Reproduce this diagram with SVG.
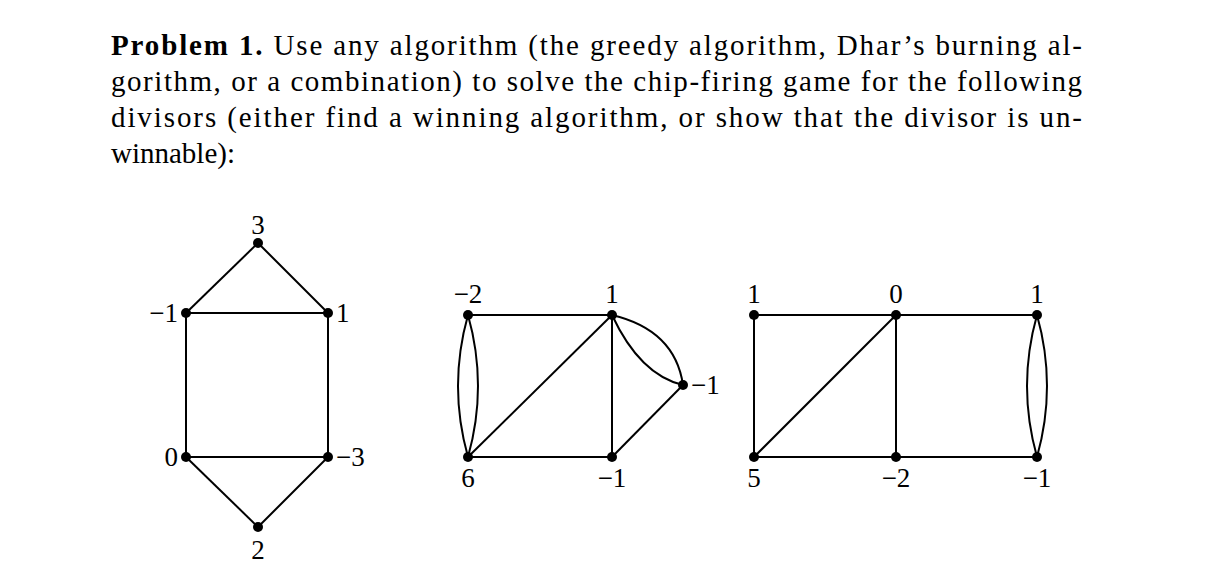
<svg xmlns="http://www.w3.org/2000/svg" width="1206" height="584" viewBox="0 0 1206 584">
<style>
text{font-family:"Liberation Serif","DejaVu Serif",serif;font-size:29px;fill:#000}
.b{font-weight:bold}
.l{font-size:27px}
line,path{stroke:#000;stroke-width:2;fill:none}
circle{fill:#000}
</style>
<rect width="1206" height="584" fill="#fff"/>
<g id="problem">
<text x="111" y="55" textLength="971" lengthAdjust="spacing"><tspan class="b">Problem 1.</tspan> Use any algorithm (the greedy algorithm, Dhar’s burning al-</text>
<text x="111" y="91" textLength="971" lengthAdjust="spacing">gorithm, or a combination) to solve the chip-firing game for the following</text>
<text x="111" y="127" textLength="971" lengthAdjust="spacing">divisors (either find a winning algorithm, or show that the divisor is un-</text>
<text x="111" y="163">winnable):</text>
</g>
<g id="connectors">
<line x1="258" y1="243" x2="186" y2="313"/><line x1="258" y1="243" x2="328" y2="313"/>
<line x1="186" y1="313" x2="328" y2="313"/><line x1="186" y1="313" x2="186" y2="457"/>
<line x1="328" y1="313" x2="328" y2="457"/><line x1="186" y1="457" x2="328" y2="457"/>
<line x1="186" y1="457" x2="258" y2="527"/><line x1="328" y1="457" x2="258" y2="527"/>
<line x1="468" y1="315" x2="612" y2="315"/><line x1="468" y1="457" x2="612" y2="315"/>
<line x1="612" y1="315" x2="612" y2="457"/><line x1="468" y1="457" x2="612" y2="457"/>
<line x1="612" y1="457" x2="683" y2="385"/>
<path d="M468 315 Q448 386 468 457"/><path d="M468 315 Q488 386 468 457"/>
<path d="M612 315 Q675 330 683 385"/><path d="M612 315 Q640 375 683 385"/>
<line x1="754" y1="315" x2="1037" y2="315"/><line x1="754" y1="457" x2="1037" y2="457"/>
<line x1="754" y1="315" x2="754" y2="457"/><line x1="896" y1="315" x2="896" y2="457"/>
<line x1="754" y1="457" x2="896" y2="315"/>
<path d="M1037 315 Q1017 386 1037 457"/><path d="M1037 315 Q1057 386 1037 457"/>
</g>
<g id="n1"><circle cx="258" cy="243" r="5"/><text class="l" x="258" y="234" text-anchor="middle">3</text></g>
<g id="n2"><circle cx="186" cy="313" r="5"/><text class="l" x="178" y="322" text-anchor="end">−1</text></g>
<g id="n3"><circle cx="328" cy="313" r="5"/><text class="l" x="336" y="322">1</text></g>
<g id="n4"><circle cx="186" cy="457" r="5"/><text class="l" x="178" y="466" text-anchor="end">0</text></g>
<g id="n5"><circle cx="328" cy="457" r="5"/><text class="l" x="336" y="466">−3</text></g>
<g id="n6"><circle cx="258" cy="527" r="5"/><text class="l" x="258" y="559" text-anchor="middle">2</text></g>
<g id="m1"><circle cx="468" cy="315" r="5"/><text class="l" x="468" y="303" text-anchor="middle">−2</text></g>
<g id="m2"><circle cx="612" cy="315" r="5"/><text class="l" x="612" y="303" text-anchor="middle">1</text></g>
<g id="m3"><circle cx="683" cy="385" r="5"/><text class="l" x="691" y="394">−1</text></g>
<g id="m4"><circle cx="468" cy="457" r="5"/><text class="l" x="468" y="487" text-anchor="middle">6</text></g>
<g id="m5"><circle cx="612" cy="457" r="5"/><text class="l" x="612" y="487" text-anchor="middle">−1</text></g>
<g id="k1"><circle cx="754" cy="315" r="5"/><text class="l" x="754" y="303" text-anchor="middle">1</text></g>
<g id="k2"><circle cx="896" cy="315" r="5"/><text class="l" x="896" y="303" text-anchor="middle">0</text></g>
<g id="k3"><circle cx="1037" cy="315" r="5"/><text class="l" x="1037" y="303" text-anchor="middle">1</text></g>
<g id="k4"><circle cx="754" cy="457" r="5"/><text class="l" x="754" y="487" text-anchor="middle">5</text></g>
<g id="k5"><circle cx="896" cy="457" r="5"/><text class="l" x="896" y="487" text-anchor="middle">−2</text></g>
<g id="k6"><circle cx="1037" cy="457" r="5"/><text class="l" x="1037" y="487" text-anchor="middle">−1</text></g>
</svg>
